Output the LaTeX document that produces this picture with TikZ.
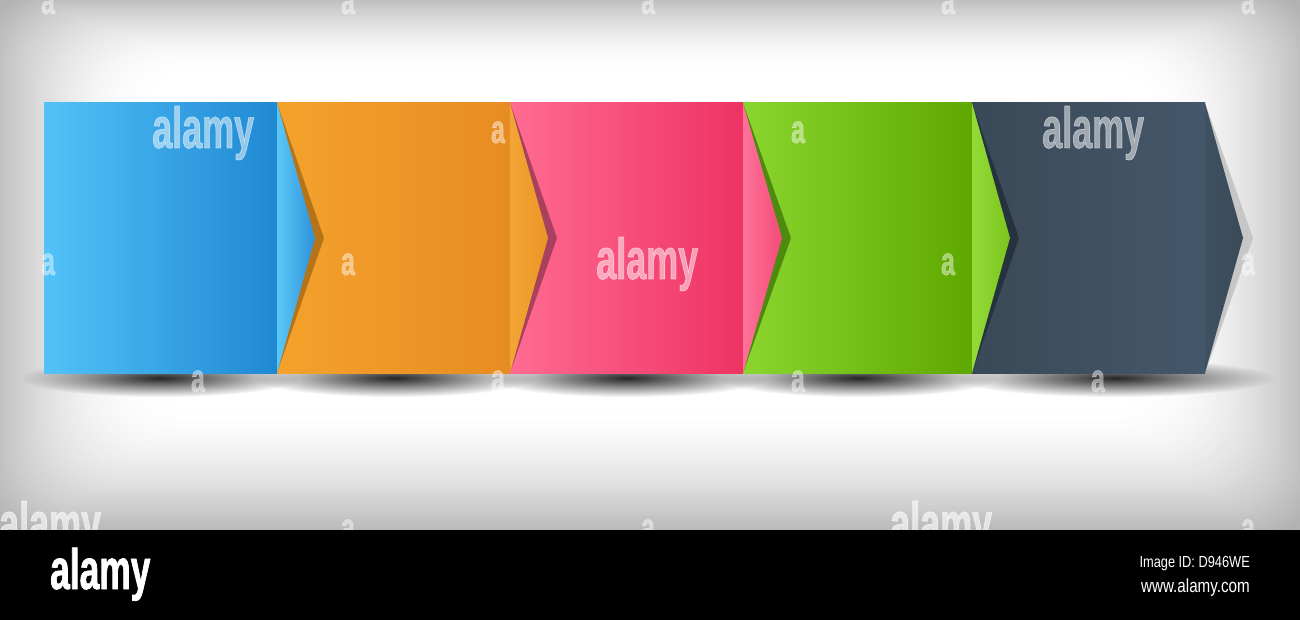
\documentclass[tikz,border=0pt]{standalone}
\usepackage{fontspec}
\newfontfamily\wmfont{Liberation Sans}[UprightFont={* Bold}, FakeStretch=0.62, FakeBold=1.2]
\newfontfamily\barfont{Liberation Sans}[FakeStretch=0.80]
\usetikzlibrary{fadings}
\tikzfading[name=shfade, inner color=transparent!0, outer color=transparent!100]
\definecolor{bluel}{HTML}{52C2F7}\definecolor{bluer}{HTML}{1F88D3}
\definecolor{bluetl}{HTML}{5CC8F8}\definecolor{bluetr}{HTML}{2C92DA}
\definecolor{orl}{HTML}{F4A22C}\definecolor{orr}{HTML}{E78C22}
\definecolor{ortl}{HTML}{F3A534}\definecolor{ortr}{HTML}{EA9627}
\definecolor{pkl}{HTML}{FF6B92}\definecolor{pkr}{HTML}{EE3264}
\definecolor{pktl}{HTML}{FF7299}\definecolor{pktr}{HTML}{F34C79}
\definecolor{grl}{HTML}{8AD62E}\definecolor{grr}{HTML}{5EA800}
\definecolor{grtl}{HTML}{93DB37}\definecolor{grtr}{HTML}{7CC51E}
\definecolor{dkl}{HTML}{3A4957}\definecolor{dkr}{HTML}{44576A}
\definecolor{dktl}{HTML}{3F5161}\definecolor{dktr}{HTML}{394958}
\definecolor{shor}{HTML}{B5741A}\definecolor{shpk}{HTML}{A8405E}
\definecolor{shgr}{HTML}{4E8A10}\definecolor{shdk}{HTML}{26323E}
\definecolor{shbg}{HTML}{C6C6C6}
\tikzset{
  wmbig/.style={text=white, text opacity=0.5, inner sep=0pt, anchor=base west, font=\wmfont\fontsize{58}{58}\selectfont},
  wmsmall/.style={text=white, text opacity=0.45, inner sep=0pt, anchor=base, font=\wmfont\fontsize{40}{40}\selectfont},
  floorshadow/.style={fill=black!85, path fading=shfade}
}
\begin{document}
\begin{tikzpicture}[x=1pt,y=-1pt]
\useasboundingbox (0,0) rectangle (1300,620);
% background with vignette (nested soft rectangles)
\fill[gray!60] (0,0) rectangle (1300,530);
\begin{scope}
\clip (0,0) rectangle (1300,530);
\foreach \i in {0,...,45} {
  \pgfmathsetmacro\g{60*(1-\i/45)^1.7}
  \fill[gray!\g, rounded corners=60pt] ({3.6*\i-20},{1.7*\i-8}) rectangle ({1320-3.6*\i},{538-2.9*\i});
}
\end{scope}
% floor shadows
\fill[floorshadow] (160,378) ellipse [x radius=140, y radius=19];
\fill[floorshadow] (394,378) ellipse [x radius=140, y radius=19];
\fill[floorshadow] (627,378) ellipse [x radius=140, y radius=19];
\fill[floorshadow] (858,378) ellipse [x radius=140, y radius=19];
\fill[floorshadow] (1115,378) ellipse [x radius=160, y radius=19];
% panel bodies
\shade[left color=bluel, right color=bluer] (44,103) rectangle (277,373);
\shade[left color=orl, right color=orr] (277,103) rectangle (510,373);
\shade[left color=pkl, right color=pkr] (510,103) rectangle (743,373);
\shade[left color=grl, right color=grr] (743,103) rectangle (972,373);
\shade[left color=dkl, right color=dkr] (972,103) rectangle (1205,373);
% tips with their shadows
\fill[shor] (277,103) -- (324,238) -- (277,373) -- cycle;
\shade[left color=bluetl, right color=bluetr] (277,103) -- (315,238) -- (277,373) -- cycle;
\fill[shpk] (510,103) -- (557,238) -- (510,373) -- cycle;
\shade[left color=ortl, right color=ortr] (510,103) -- (548,238) -- (510,373) -- cycle;
\fill[shgr] (743,103) -- (791,238) -- (743,373) -- cycle;
\shade[left color=pktl, right color=pktr] (743,103) -- (782,238) -- (743,373) -- cycle;
\fill[shdk] (972,103) -- (1019,238) -- (972,373) -- cycle;
\shade[left color=grtl, right color=grtr] (972,103) -- (1010,238) -- (972,373) -- cycle;
\fill[shbg] (1205,103) -- (1253,238) -- (1205,373) -- cycle;
\shade[left color=dktl, right color=dktr] (1205,103) -- (1243,238) -- (1205,373) -- cycle;
% watermarks
\node[wmbig] (w1) at (152,148) {alamy};
\node[wmbig] (w2) at (596,279) {alamy};
\node[wmbig] (w3) at (1042,148) {alamy};
\begin{scope}
\clip (0,0) rectangle (1300,530);
\node[wmbig, text opacity=0.6] (w4) at (-1,543) {alamy};
\node[wmbig, text opacity=0.6] (w5) at (890,543) {alamy};
\end{scope}
\foreach \x/\y [count=\i] in {48/14,348/14,648/14,948/14,1248/14,
  498/143,798/143,48/275,348/275,948/275,1248/275,
  198/392,498/392,798/392,1098/392,348/541,648/541,1248/541}
  \node[wmsmall] (a\i) at (\x,\y) {a};
% bottom bar
\fill[black] (0,530) rectangle (1300,620);
\node[text=white, inner sep=0pt, anchor=base west, font=\wmfont\fontsize{57}{57}\selectfont] (logo) at (50,589) {alamy};
\node[text=white, inner sep=0pt, anchor=base east, font=\barfont\fontsize{16}{16}\selectfont] (imgid) at (1250,567) {Image ID: D946WE};
\node[text=white, inner sep=0pt, anchor=base east, font=\barfont\fontsize{19}{19}\selectfont] (url) at (1250,592) {www.alamy.com};
\end{tikzpicture}
\end{document}
